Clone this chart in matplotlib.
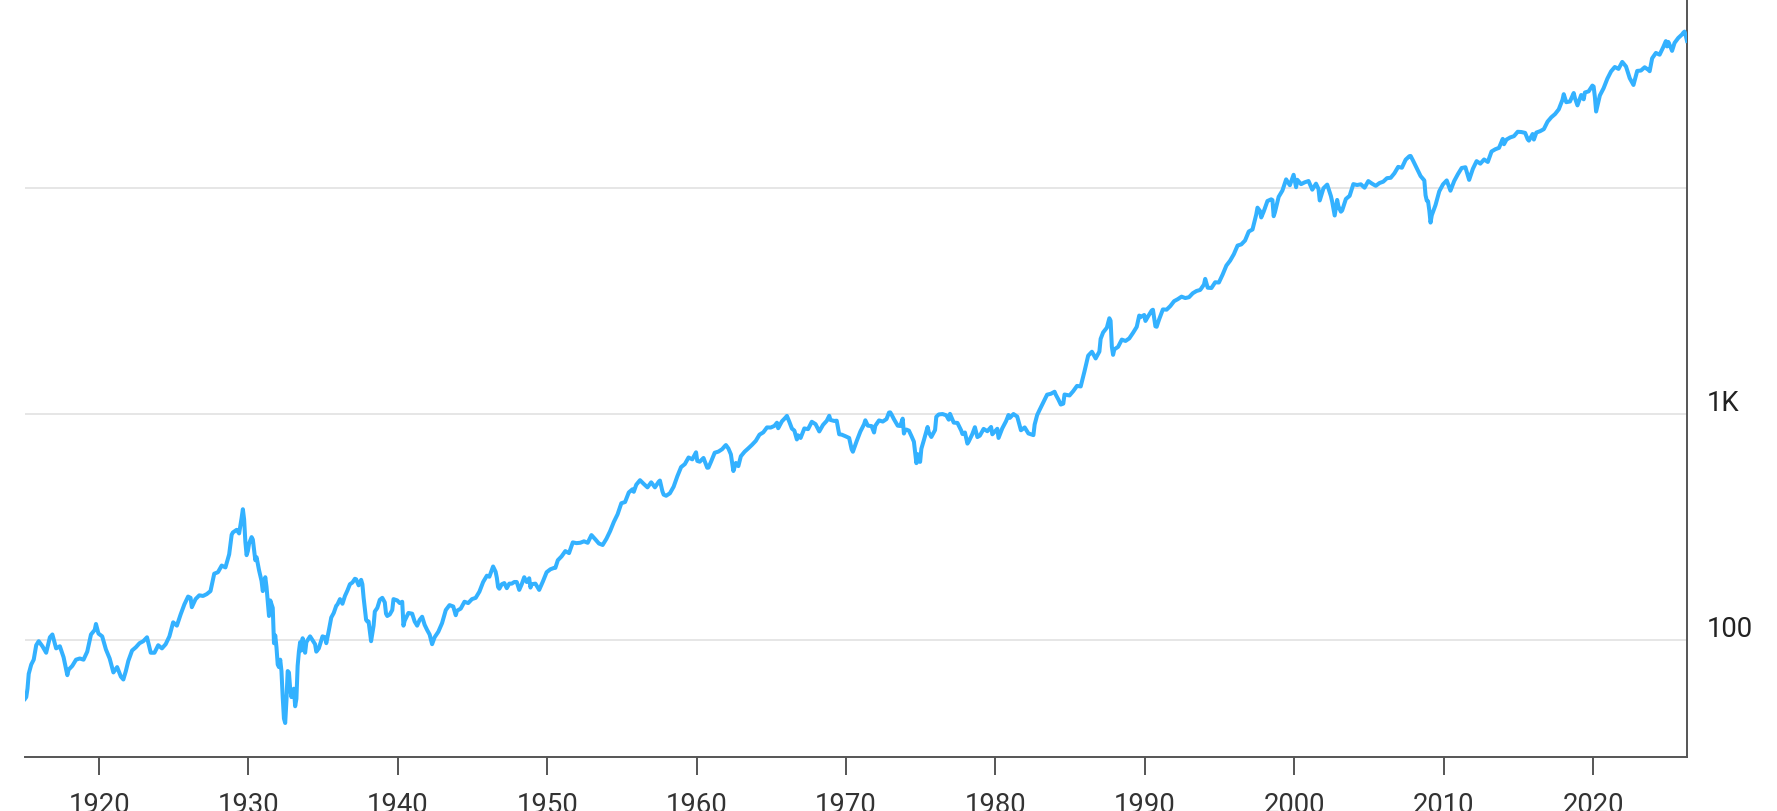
import matplotlib
matplotlib.use('Agg')
import matplotlib.pyplot as plt
import matplotlib.ticker as ticker

# Dow Jones Industrial Average, approximate month closes
months = [
    '1915-01', '1915-02', '1915-03', '1915-04', '1915-06', '1915-08', '1915-10', '1915-12',
    '1916-03', '1916-06', '1916-09', '1916-11',
    '1917-02', '1917-05', '1917-08', '1917-11', '1917-12',
    '1918-03', '1918-06', '1918-09', '1918-12',
    '1919-03', '1919-06', '1919-09', '1919-10', '1919-12',
    '1920-03', '1920-06', '1920-09', '1920-12',
    '1921-03', '1921-06', '1921-08', '1921-10', '1921-12',
    '1922-03', '1922-06', '1922-09', '1922-12',
    '1923-03', '1923-06', '1923-09', '1923-12',
    '1924-03', '1924-06', '1924-09', '1924-12',
    '1925-03', '1925-06', '1925-09', '1925-12',
    '1926-02', '1926-03', '1926-06', '1926-09', '1926-12',
    '1927-03', '1927-06', '1927-09', '1927-12',
    '1928-03', '1928-06', '1928-09', '1928-11', '1928-12',
    '1929-03', '1929-05', '1929-07', '1929-08', '1929-09', '1929-10', '1929-11', '1929-12',
    '1930-01', '1930-03', '1930-04', '1930-06', '1930-07', '1930-09', '1930-11', '1930-12',
    '1931-02', '1931-03', '1931-05', '1931-06', '1931-08', '1931-09', '1931-10', '1931-11', '1931-12',
    '1932-01', '1932-02', '1932-03', '1932-04', '1932-05', '1932-06',
    '1932-07', '1932-08', '1932-09', '1932-10', '1932-11', '1932-12',
    '1933-01', '1933-02', '1933-03', '1933-04', '1933-05', '1933-06',
    '1933-07', '1933-08', '1933-09', '1933-10', '1933-11', '1933-12',
    '1934-02', '1934-04', '1934-06', '1934-07', '1934-09', '1934-12',
    '1935-02', '1935-03', '1935-05', '1935-07', '1935-09', '1935-11', '1935-12',
    '1936-02', '1936-04', '1936-06', '1936-08', '1936-10', '1936-12',
    '1937-02', '1937-03', '1937-05', '1937-07', '1937-08', '1937-09', '1937-10', '1937-11', '1937-12',
    '1938-01', '1938-03', '1938-05', '1938-06', '1938-08', '1938-10', '1938-12',
    '1939-02', '1939-03', '1939-04', '1939-06', '1939-08', '1939-09', '1939-12',
    '1940-02', '1940-04', '1940-05', '1940-06', '1940-09', '1940-12',
    '1941-02', '1941-04', '1941-06', '1941-08', '1941-10', '1941-12',
    '1942-02', '1942-04', '1942-06', '1942-09', '1942-12',
    '1943-03', '1943-06', '1943-09', '1943-11', '1943-12',
    '1944-03', '1944-06', '1944-09', '1944-12',
    '1945-03', '1945-06', '1945-09', '1945-12',
    '1946-02', '1946-05', '1946-07', '1946-08', '1946-09', '1946-10', '1946-12',
    '1947-02', '1947-04', '1947-06', '1947-08', '1947-10', '1947-12',
    '1948-02', '1948-04', '1948-06', '1948-08', '1948-10', '1948-11', '1948-12',
    '1949-03', '1949-06', '1949-09', '1949-12',
    '1950-03', '1950-06', '1950-07', '1950-09', '1950-12',
    '1951-03', '1951-06', '1951-09', '1951-12',
    '1952-03', '1952-06', '1952-09', '1952-12',
    '1953-03', '1953-06', '1953-09', '1953-12',
    '1954-03', '1954-06', '1954-09', '1954-12',
    '1955-03', '1955-06', '1955-09', '1955-10', '1955-12',
    '1956-03', '1956-06', '1956-09', '1956-12',
    '1957-03', '1957-06', '1957-07', '1957-09', '1957-10', '1957-12',
    '1958-03', '1958-06', '1958-09', '1958-12',
    '1959-03', '1959-06', '1959-09', '1959-12',
    '1960-01', '1960-03', '1960-06', '1960-09', '1960-10', '1960-12',
    '1961-03', '1961-06', '1961-09', '1961-11', '1961-12',
    '1962-02', '1962-04', '1962-05', '1962-06', '1962-08', '1962-10', '1962-12',
    '1963-03', '1963-06', '1963-09', '1963-12',
    '1964-03', '1964-06', '1964-09', '1964-12',
    '1965-03', '1965-05', '1965-06', '1965-09', '1965-12',
    '1966-01', '1966-03', '1966-05', '1966-07', '1966-09', '1966-10', '1966-12',
    '1967-03', '1967-06', '1967-09', '1967-12',
    '1968-03', '1968-06', '1968-09', '1968-11', '1968-12',
    '1969-03', '1969-05', '1969-07', '1969-09', '1969-12',
    '1970-03', '1970-05', '1970-06', '1970-09', '1970-12',
    '1971-03', '1971-04', '1971-06', '1971-09', '1971-11', '1971-12',
    '1972-03', '1972-06', '1972-09', '1972-11', '1972-12',
    '1973-01', '1973-03', '1973-06', '1973-08', '1973-10', '1973-11', '1973-12',
    '1974-01', '1974-03', '1974-05', '1974-07', '1974-08', '1974-09', '1974-10', '1974-11', '1974-12',
    '1975-01', '1975-03', '1975-06', '1975-07', '1975-09', '1975-12',
    '1976-01', '1976-03', '1976-06', '1976-09', '1976-11', '1976-12',
    '1977-03', '1977-06', '1977-09', '1977-10', '1977-12',
    '1978-02', '1978-03', '1978-06', '1978-08', '1978-10', '1978-12',
    '1979-03', '1979-06', '1979-09', '1979-10', '1979-12',
    '1980-02', '1980-03', '1980-06', '1980-09', '1980-11', '1980-12',
    '1981-03', '1981-06', '1981-09', '1981-12',
    '1982-03', '1982-06', '1982-07', '1982-08', '1982-10', '1982-12',
    '1983-03', '1983-06', '1983-09', '1983-12',
    '1984-01', '1984-03', '1984-05', '1984-07', '1984-08', '1984-12',
    '1985-03', '1985-06', '1985-09', '1985-12',
    '1986-03', '1986-06', '1986-09', '1986-12',
    '1987-01', '1987-03', '1987-06', '1987-08', '1987-09', '1987-10', '1987-11', '1987-12',
    '1988-03', '1988-06', '1988-09', '1988-12',
    '1989-03', '1989-06', '1989-08', '1989-09', '1989-12',
    '1990-01', '1990-03', '1990-06', '1990-07', '1990-09', '1990-10', '1990-12',
    '1991-03', '1991-06', '1991-09', '1991-12',
    '1992-03', '1992-06', '1992-09', '1992-12',
    '1993-03', '1993-06', '1993-09', '1993-12',
    '1994-01', '1994-03', '1994-06', '1994-09', '1994-12',
    '1995-03', '1995-06', '1995-09', '1995-12',
    '1996-03', '1996-06', '1996-09', '1996-12',
    '1997-03', '1997-06', '1997-07', '1997-09', '1997-10', '1997-12',
    '1998-03', '1998-06', '1998-07', '1998-08', '1998-09', '1998-12',
    '1999-03', '1999-06', '1999-09', '1999-12',
    '2000-02', '2000-03', '2000-06', '2000-09', '2000-12',
    '2001-03', '2001-06', '2001-08', '2001-09', '2001-12',
    '2002-03', '2002-06', '2002-07', '2002-09', '2002-11', '2002-12',
    '2003-02', '2003-03', '2003-06', '2003-09', '2003-12',
    '2004-03', '2004-06', '2004-09', '2004-12',
    '2005-03', '2005-06', '2005-09', '2005-12',
    '2006-03', '2006-06', '2006-09', '2006-12',
    '2007-03', '2007-06', '2007-09', '2007-10', '2007-12',
    '2008-03', '2008-06', '2008-09', '2008-10', '2008-11', '2008-12',
    '2009-01', '2009-02', '2009-03', '2009-06', '2009-09', '2009-12',
    '2010-03', '2010-06', '2010-09', '2010-12',
    '2011-03', '2011-06', '2011-09', '2011-12',
    '2012-03', '2012-06', '2012-09', '2012-12',
    '2013-03', '2013-06', '2013-09', '2013-12',
    '2014-01', '2014-03', '2014-06', '2014-09', '2014-12',
    '2015-03', '2015-06', '2015-08', '2015-09', '2015-12',
    '2016-01', '2016-03', '2016-06', '2016-09', '2016-12',
    '2017-03', '2017-06', '2017-09', '2017-12',
    '2018-01', '2018-03', '2018-06', '2018-09', '2018-10', '2018-12',
    '2019-03', '2019-05', '2019-06', '2019-09', '2019-12',
    '2020-01', '2020-02', '2020-03', '2020-06', '2020-09', '2020-12',
    '2021-03', '2021-06', '2021-09', '2021-12',
    '2022-03', '2022-06', '2022-09', '2022-12',
    '2023-03', '2023-06', '2023-09', '2023-10', '2023-12',
    '2024-03', '2024-06', '2024-09', '2024-11', '2024-12',
    '2025-01', '2025-03', '2025-04', '2025-06', '2025-09', '2025-12',
    '2026-01', '2026-02', '2026-03', '2026-04',
]

dow_close = [
    55, 56, 61, 71, 78, 82, 95, 99,
    94, 88, 103, 106,
    92, 94, 84, 70, 74,
    77, 82, 83, 82,
    89, 106, 111, 118, 107,
    104, 91, 83, 72,
    76, 69, 67, 73, 81,
    90, 93, 97, 99,
    103, 88, 88, 95,
    92, 96, 104, 120,
    116, 130, 144, 156,
    154, 140, 152, 158, 157,
    160, 165, 197, 200,
    214, 210, 240, 293, 300,
    308, 297, 348, 380, 343, 273, 238, 248,
    268, 286, 279, 226, 233, 204, 183, 165,
    190, 172, 128, 150, 139, 97, 105, 93, 78,
    76, 82, 73, 56, 45, 43,
    54, 73, 72, 61, 56, 60,
    61, 51, 55, 77, 89, 98,
    90, 102, 94, 88, 98, 100,
    104, 100, 96, 89, 92, 104,
    103, 97, 110, 126, 132, 142, 144,
    152, 145, 157, 166, 177, 180,
    187, 186, 175, 185, 177, 154, 138, 123, 121,
    121, 99, 116, 134, 139, 151, 154,
    147, 131, 128, 130, 136, 152, 150,
    146, 148, 116, 122, 132, 131,
    121, 116, 123, 127, 117, 111,
    106, 96, 103, 109, 119,
    136, 143, 141, 129, 135,
    138, 148, 146, 152,
    154, 164, 181, 193,
    191, 212, 201, 189, 172, 169, 177,
    179, 170, 178, 178, 181, 181,
    167, 177, 190, 181, 188, 171, 177,
    178, 167, 182, 200,
    206, 209, 209, 226, 235,
    248, 243, 271, 269,
    270, 274, 270, 292,
    280, 268, 264, 281,
    304, 334, 361, 404,
    409, 451, 466, 454, 488,
    511, 492, 475, 500,
    475, 503, 509, 456, 441, 436,
    447, 478, 532, 584,
    602, 644, 632, 679,
    622, 617, 641, 580, 581, 616,
    676, 684, 701, 722, 731,
    706, 665, 613, 561, 609, 590, 652,
    683, 707, 733, 763,
    813, 832, 875, 874,
    889, 918, 868, 931, 969,
    984, 925, 865, 847, 774, 807, 786,
    866, 860, 927, 905,
    840, 898, 936, 985, 944,
    935, 937, 816, 813, 800,
    786, 700, 683, 760, 839,
    904, 941, 891, 887, 831, 890,
    940, 929, 953, 1018, 1020,
    999, 951, 891, 888, 957, 822, 851,
    856, 847, 802, 757, 679, 608, 666, 619, 616,
    704, 768, 879, 832, 794, 852,
    975, 999, 1003, 990, 947, 1005,
    919, 916, 848, 818, 831,
    742, 757, 819, 877, 793, 805,
    862, 842, 879, 816, 839,
    863, 786, 867, 932, 993, 964,
    1003, 977, 850, 875,
    823, 812, 809, 901, 992, 1047,
    1130, 1222, 1233, 1259,
    1221, 1165, 1105, 1115, 1224, 1212,
    1267, 1336, 1329, 1547,
    1819, 1893, 1768, 1896,
    2158, 2305, 2419, 2663, 2596, 1994, 1834, 1939,
    1989, 2142, 2113, 2169,
    2294, 2440, 2737, 2693, 2753,
    2591, 2707, 2881, 2905, 2453, 2442, 2634,
    2914, 2907, 3017, 3169,
    3236, 3319, 3272, 3301,
    3436, 3516, 3555, 3754,
    3978, 3636, 3625, 3843, 3834,
    4158, 4556, 4789, 5117,
    5588, 5655, 5882, 6448,
    6584, 7673, 8223, 7945, 7442, 7908,
    8800, 8952, 8883, 7539, 7843, 9181,
    9786, 10971, 10337, 11497,
    10128, 10922, 10448, 10651, 10788,
    9879, 10502, 9950, 8848, 10022,
    10404, 9243, 8737, 7592, 8896, 8342,
    7891, 7992, 8985, 9275, 10454,
    10358, 10435, 10080, 10783,
    10504, 10275, 10569, 10718,
    11109, 11150, 11679, 12463,
    12354, 13408, 13896, 13930, 13265,
    12263, 11350, 10851, 9325, 8829, 8776,
    8001, 7063, 7609, 8447, 9712, 10428,
    10857, 9774, 10788, 11578,
    12320, 12414, 10913, 12218,
    13212, 12880, 13437, 13104,
    14579, 14910, 15130, 16577,
    15699, 16458, 16827, 17043, 17823,
    17776, 17620, 16528, 16285, 17425,
    16466, 17685, 17930, 18308, 19763,
    20663, 21350, 22405, 24719,
    26149, 24103, 24271, 26458, 25116, 23327,
    25929, 24815, 26600, 26917, 28538,
    28256, 25409, 21917, 25813, 27782, 30606,
    32982, 34503, 33844, 36338,
    34678, 30775, 28726, 33147,
    33274, 34408, 33508, 33053, 37690,
    39807, 39119, 42330, 44911, 42544,
    44544, 42002, 40669, 44095, 46398, 48063,
    48892, 49500, 47500, 45000,
]

y_ticks = [100, 1000, 10000]
y_labels = {100: '100', 1000: '1K'}

assert len(months) == len(dow_close)

# month strings -> decimal years (mid month)
years = [int(m[:4]) + (int(m[5:]) - 0.5) / 12 for m in months]

fig = plt.figure(figsize=(17.77, 8.12), dpi=100)
ax = fig.add_axes([25 / 1777, 54 / 812, 1662 / 1777, 758 / 812])

ax.plot(years, dow_close, color='#33b1ff', linewidth=2.9, solid_joinstyle='round', zorder=3)

ax.set_yscale('log')
ax.set_xlim(years[0], years[-1])
ax.set_ylim(30.4, 69000)

# horizontal grid at the decades, labels drawn separately above the lines
ax.yaxis.set_major_locator(ticker.FixedLocator(y_ticks))
ax.yaxis.set_minor_locator(ticker.NullLocator())
ax.tick_params(axis='y', length=0, labelleft=False, labelright=False)
ax.grid(axis='y', color='#e6e6e6', linewidth=1.4)
ax.set_axisbelow(True)

for val, lab in y_labels.items():
    ax.annotate(lab, xy=(1, val), xycoords=('axes fraction', 'data'),
                xytext=(14.4, 2.9), textcoords='offset points',
                ha='left', va='baseline', fontsize=19.8, family='Roboto', color='#222222')

ax.xaxis.set_major_locator(ticker.MultipleLocator(10))
ax.xaxis.set_minor_locator(ticker.NullLocator())
ax.xaxis.set_major_formatter(ticker.FuncFormatter(lambda v, p: f'{int(round(v))}'))
ax.tick_params(axis='x', direction='out', length=13, width=1.4, color='#555555',
               pad=11.6, labelsize=19.8, labelcolor='#333333')
for lbl in ax.get_xticklabels():
    lbl.set_family('Roboto')

for side in ['top', 'left']:
    ax.spines[side].set_visible(False)
for side in ['right', 'bottom']:
    ax.spines[side].set_color('#555555')
    ax.spines[side].set_linewidth(1.4)

fig.savefig('out.png', dpi=100)
